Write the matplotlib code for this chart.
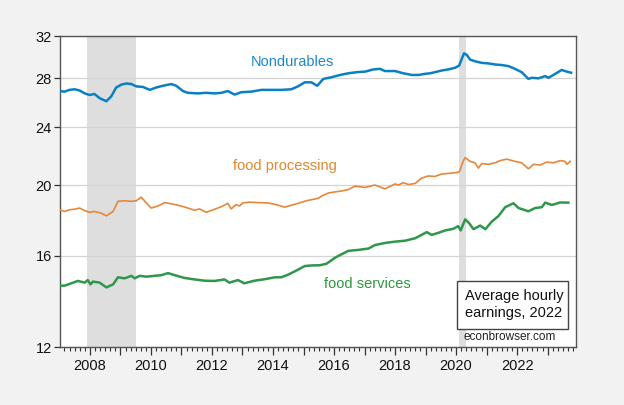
import matplotlib
matplotlib.use("Agg")
import matplotlib.pyplot as plt
from matplotlib.ticker import FixedLocator, MultipleLocator, NullLocator, FuncFormatter
from matplotlib.patches import Rectangle

plt.rcParams['font.family'] = ['Liberation Sans', 'DejaVu Sans']

# ---- data (decimal years, 2022 dollars) ----
nd_t = [2007.01, 2007.17, 2007.33, 2007.50, 2007.66, 2007.83, 2007.99, 2008.15, 2008.32, 2008.54,
        2008.70, 2008.86, 2009.03, 2009.19, 2009.36, 2009.52, 2009.74, 2009.96, 2010.17, 2010.39,
        2010.67, 2010.83, 2011.05, 2011.21, 2011.54, 2011.81, 2012.09, 2012.31, 2012.52, 2012.74,
        2012.96, 2013.29, 2013.62, 2013.95, 2014.27, 2014.60, 2014.82, 2015.04, 2015.26, 2015.45,
        2015.65, 2015.92, 2016.20, 2016.47, 2016.74, 2017.02, 2017.29, 2017.51, 2017.67, 2018.00,
        2018.27, 2018.55, 2018.77, 2018.98, 2019.15, 2019.31, 2019.53, 2019.75, 2019.97, 2020.10,
        2020.19, 2020.26, 2020.35, 2020.46, 2020.62, 2020.84, 2021.06, 2021.28, 2021.50, 2021.72,
        2021.93, 2022.15, 2022.37, 2022.48, 2022.70, 2022.92, 2023.03, 2023.25, 2023.46, 2023.63,
        2023.77]
nd_v = [26.9, 26.85, 27.0, 27.05, 26.95, 26.7, 26.57, 26.65, 26.3, 26.05,
        26.45, 27.2, 27.45, 27.55, 27.5, 27.3, 27.25, 27.0, 27.2, 27.35,
        27.5, 27.35, 26.9, 26.75, 26.7, 26.75, 26.7, 26.75, 26.9, 26.6,
        26.8, 26.85, 27.0, 27.0, 27.0, 27.05, 27.3, 27.65, 27.65, 27.35,
        27.95, 28.1, 28.3, 28.45, 28.55, 28.6, 28.8, 28.85, 28.65, 28.65,
        28.45, 28.3, 28.3, 28.4, 28.45, 28.55, 28.7, 28.8, 28.95, 29.15,
        29.8, 30.3, 30.15, 29.7, 29.55, 29.4, 29.35, 29.25, 29.2, 29.1,
        28.85, 28.55, 27.95, 28.05, 28.0, 28.2, 28.05, 28.4, 28.75, 28.6,
        28.5]

fp_t = [2007.01, 2007.17, 2007.33, 2007.50, 2007.66, 2007.83, 2007.99, 2008.15, 2008.37, 2008.54,
        2008.76, 2008.92, 2009.14, 2009.36, 2009.52, 2009.68, 2009.85, 2010.01, 2010.23, 2010.45,
        2010.67, 2010.99, 2011.21, 2011.43, 2011.59, 2011.81, 2012.09, 2012.31, 2012.52, 2012.63,
        2012.79, 2012.90, 2013.01, 2013.23, 2013.51, 2013.84, 2014.11, 2014.38, 2014.71, 2015.09,
        2015.48, 2015.60, 2015.81, 2016.03, 2016.25, 2016.47, 2016.69, 2017.02, 2017.34, 2017.67,
        2018.00, 2018.11, 2018.27, 2018.44, 2018.66, 2018.87, 2019.09, 2019.31, 2019.53, 2019.75,
        2020.02, 2020.11, 2020.24, 2020.30, 2020.46, 2020.62, 2020.73, 2020.84, 2021.06, 2021.28,
        2021.44, 2021.66, 2021.93, 2022.15, 2022.37, 2022.54, 2022.75, 2022.97, 2023.19, 2023.41,
        2023.57, 2023.63, 2023.74]
fp_v = [18.49, 18.4, 18.5, 18.53, 18.6, 18.45, 18.35, 18.4, 18.3, 18.15,
        18.4, 19.0, 19.03, 19.0, 19.03, 19.25, 18.9, 18.6, 18.72, 18.92,
        18.85, 18.72, 18.6, 18.47, 18.55, 18.35, 18.53, 18.68, 18.88, 18.55,
        18.8, 18.72, 18.9, 18.95, 18.92, 18.9, 18.8, 18.65, 18.82, 19.03,
        19.18, 19.32, 19.5, 19.57, 19.63, 19.72, 19.93, 19.85, 20.0, 19.76,
        20.07, 20.0, 20.15, 20.03, 20.1, 20.44, 20.58, 20.55, 20.7, 20.75,
        20.8, 20.86, 21.6, 21.8, 21.55, 21.45, 21.1, 21.4, 21.35, 21.45,
        21.6, 21.7, 21.55, 21.45, 21.05, 21.35, 21.3, 21.5, 21.45, 21.6,
        21.55, 21.35, 21.55]

fs_t = [2007.01, 2007.17, 2007.39, 2007.61, 2007.83, 2007.93, 2008.02, 2008.10, 2008.32, 2008.54,
        2008.76, 2008.92, 2009.14, 2009.36, 2009.47, 2009.63, 2009.85, 2010.12, 2010.34, 2010.56,
        2010.78, 2011.10, 2011.43, 2011.76, 2012.09, 2012.41, 2012.57, 2012.85, 2013.06, 2013.39,
        2013.73, 2014.06, 2014.27, 2014.49, 2014.71, 2015.04, 2015.26, 2015.54, 2015.75, 2016.03,
        2016.25, 2016.47, 2016.80, 2017.13, 2017.34, 2017.67, 2018.00, 2018.33, 2018.66, 2019.04,
        2019.20, 2019.42, 2019.64, 2019.91, 2020.07, 2020.15, 2020.30, 2020.43, 2020.57, 2020.79,
        2020.96, 2021.17, 2021.39, 2021.61, 2021.88, 2022.05, 2022.37, 2022.59, 2022.81, 2022.92,
        2023.14, 2023.41, 2023.68]
fs_v = [14.56, 14.56, 14.67, 14.78, 14.7, 14.82, 14.62, 14.75, 14.7, 14.48,
        14.62, 14.95, 14.9, 15.02, 14.9, 15.02, 14.98, 15.02, 15.05, 15.15,
        15.05, 14.92, 14.85, 14.79, 14.78, 14.85, 14.7, 14.82, 14.67, 14.79,
        14.86, 14.95, 14.95, 15.07, 15.23, 15.49, 15.52, 15.53, 15.6, 15.9,
        16.08, 16.25, 16.3, 16.37, 16.55, 16.66, 16.73, 16.78, 16.91, 17.24,
        17.09, 17.2, 17.33, 17.42, 17.57, 17.33, 17.95, 17.73, 17.4, 17.6,
        17.4, 17.82, 18.14, 18.65, 18.88, 18.6, 18.41, 18.6, 18.65, 18.92,
        18.78, 18.93, 18.92]

recessions = [(2007.92, 2009.50), (2020.08, 2020.33)]
y_ticks = [12, 16, 20, 24, 28, 32]
x_label_years = list(range(2008, 2024, 2))

# ---- figure ----
fig = plt.figure(figsize=(6.24, 4.05), dpi=100, facecolor='#f2f2f2')
ax = fig.add_axes([60/624, 58/405, 516/624, 311/405])
ax.set_facecolor('white')

for a, b in recessions:
    ax.axvspan(a, b, color='#dedede', lw=0, zorder=0)

ax.set_yscale('log')
ax.set_ylim(12, 32)
ax.set_xlim(2007.02, 2023.93)
ax.yaxis.set_major_locator(FixedLocator(y_ticks))
ax.yaxis.set_minor_locator(NullLocator())
ax.yaxis.set_major_formatter(FuncFormatter(lambda v, p: f"{v:.0f}"))
ax.grid(axis='y', color='#d4d4d4', lw=0.9, zorder=1)

ax.xaxis.set_major_locator(MultipleLocator(1))
ax.xaxis.set_minor_locator(MultipleLocator(1/6))
ax.xaxis.set_major_formatter(FuncFormatter(
    lambda v, p: f"{int(round(v))}" if int(round(v)) in x_label_years else ""))

ax.plot(nd_t, nd_v, color='#0a80c4', lw=1.8, zorder=3)
ax.plot(fp_t, fp_v, color='#e6873a', lw=1.2, zorder=3)
ax.plot(fs_t, fs_v, color='#2f974a', lw=1.8, zorder=3)

ax.tick_params(axis='both', which='major', direction='out', labelsize=10.5,
               colors='#333333', labelcolor='#111111', width=0.9)
ax.tick_params(axis='x', which='major', length=5.5, pad=3)
ax.tick_params(axis='y', which='major', length=4, pad=2)
ax.tick_params(axis='x', which='minor', direction='out', length=3, width=0.8, colors='#333333')
for s in ax.spines.values():
    s.set_color('#555555')
    s.set_linewidth(1.0)

ax.text(0.4496, 0.917, 'Nondurables', transform=ax.transAxes, ha='center', va='center',
        color='#1a88cc', fontsize=10.5)
ax.text(0.436, 0.583, 'food processing', transform=ax.transAxes, ha='center', va='center',
        color='#e0882e', fontsize=10.5)
ax.text(0.596, 0.2016, 'food services', transform=ax.transAxes, ha='center', va='center',
        color='#2b9a3c', fontsize=10.5)

box = Rectangle((0.7688, 0.0579), 0.9845 - 0.7688, 0.2132 - 0.0579, transform=ax.transAxes,
                facecolor='white', edgecolor='#444444', lw=1.0, zorder=5)
ax.add_patch(box)
ax.text(0.7845, 0.1365, 'Average hourly\nearnings, 2022', transform=ax.transAxes,
        ha='left', va='center', fontsize=10.5, color='#111111', linespacing=1.35, zorder=6)
ax.text(0.872, 0.032, 'econbrowser.com', transform=ax.transAxes, ha='center', va='center',
        fontsize=8.5, color='#222222', zorder=6)

fig.savefig('out.png', dpi=100, facecolor=fig.get_facecolor())
